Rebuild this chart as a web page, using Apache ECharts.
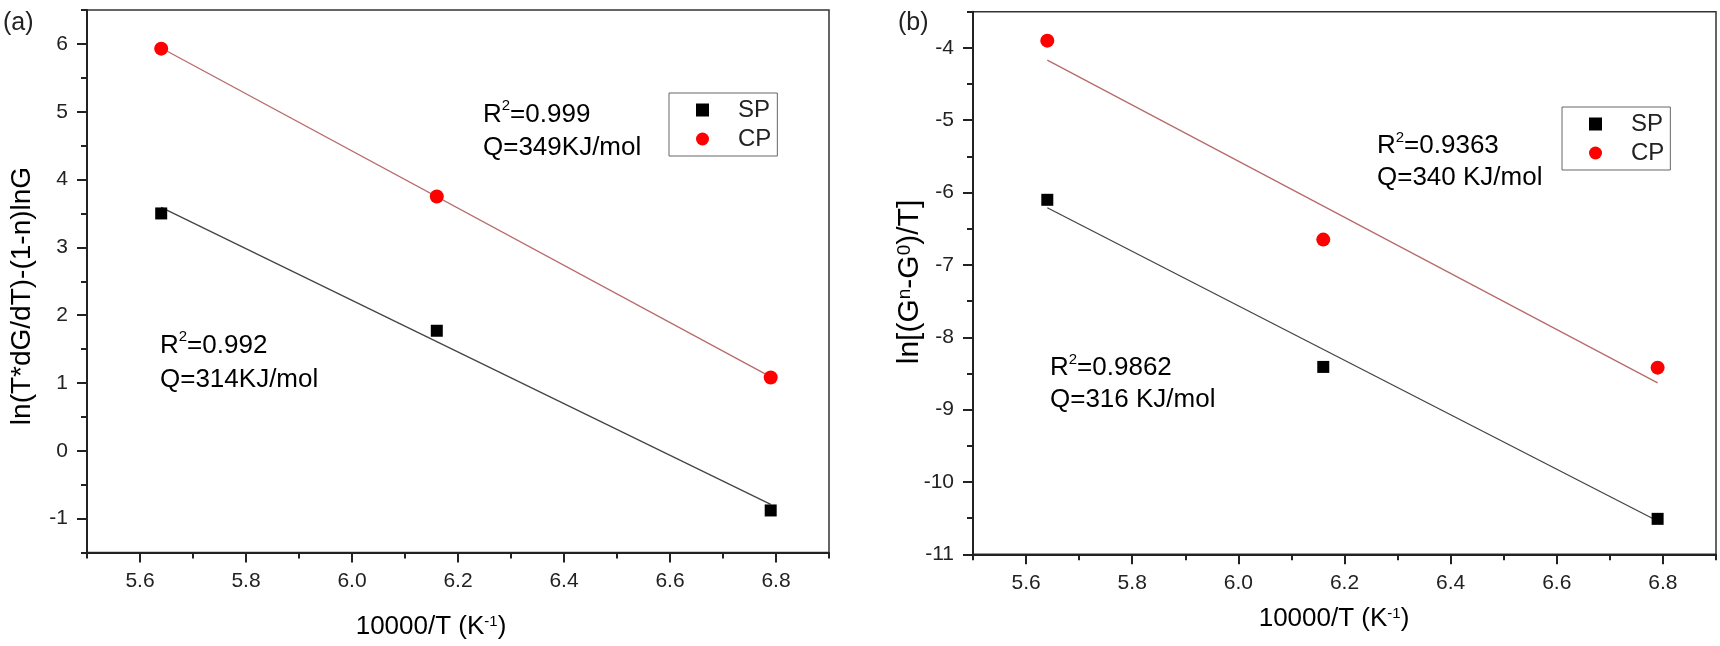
<!DOCTYPE html>
<html>
<head>
<meta charset="utf-8">
<script src="https://cdn.jsdelivr.net/npm/echarts@6/dist/echarts.min.js"></script>
<style>
  html, body { margin: 0; padding: 0; background: #fff; }
  #chart { width: 1720px; height: 646px; }
</style>
</head>
<body>
<div id="chart"></div>
<script>
// values
const xT = [5.64, 6.16, 6.79];
const spA = [3.50, 1.77, -0.88];
const cpA = [5.93, 3.75, 1.08];
const spB = [-6.10, -8.41, -10.51];
const cpB = [-3.90, -6.65, -8.42];

// fitted straight lines, end points as drawn
const fitX = [5.64, 6.79];
const spFitA = [3.59, -0.79];
const cpFitA = [5.94, 1.09];
const spFitB = [-6.21, -10.54];
const cpFitB = [-4.17, -8.63];

// ticks
const xMajor = [5.6, 5.8, 6.0, 6.2, 6.4, 6.6, 6.8];
const xMinor = [5.5, 5.7, 5.9, 6.1, 6.3, 6.5, 6.7, 6.9];
const yMajorA = [-1, 0, 1, 2, 3, 4, 5, 6];
const yMinorA = [-1.5, -0.5, 0.5, 1.5, 2.5, 3.5, 4.5, 5.5, 6.5];
const yMajorB = [-11, -10, -9, -8, -7, -6, -5, -4];
const yMinorB = [-10.5, -9.5, -8.5, -7.5, -6.5, -5.5, -4.5, -3.5];

const FONT = "'Liberation Sans', Arial, sans-serif";
const INK = '#222';

const pairs = (xs, ys) => xs.map((x, i) => [x, ys[i]]);

function xAxes(grid) {
  return [
    {
      gridIndex: grid, type: 'value', position: 'bottom', min: 5.5, max: 6.9,
      axisLine: { show: true, onZero: false, lineStyle: { color: INK, width: 2 } },
      axisTick: { show: true, length: 10, customValues: xMajor, lineStyle: { color: INK, width: 2 } },
      axisLabel: { customValues: xMajor, margin: 18, color: INK, fontSize: 21, fontFamily: FONT,
        formatter: v => v.toFixed(1) },
      splitLine: { show: false }
    },
    {
      gridIndex: grid, type: 'value', position: 'bottom', min: 5.5, max: 6.9,
      axisLine: { show: false, onZero: false },
      axisTick: { show: true, length: 6, customValues: xMinor, lineStyle: { color: INK, width: 2 } },
      axisLabel: { show: false },
      splitLine: { show: false }
    }
  ];
}

function yAxes(grid, min, max, major, minor) {
  return [
    {
      gridIndex: grid, type: 'value', position: 'left', min: min, max: max,
      axisLine: { show: true, onZero: false, lineStyle: { color: INK, width: 2 } },
      axisTick: { show: true, length: 10, customValues: major, lineStyle: { color: INK, width: 2 } },
      axisLabel: { customValues: major, margin: 19, color: INK, fontSize: 21, fontFamily: FONT,
        formatter: v => String(v) },
      splitLine: { show: false }
    },
    {
      gridIndex: grid, type: 'value', position: 'left', min: min, max: max,
      axisLine: { show: false, onZero: false },
      axisTick: { show: true, length: 6, customValues: minor, lineStyle: { color: INK, width: 2 } },
      axisLabel: { show: false },
      splitLine: { show: false }
    }
  ];
}

function panelSeries(grid, sp, cp, spFit, cpFit) {
  const xi = grid * 2, yi = grid * 2;
  return [
    { name: 'SP fit', type: 'line', xAxisIndex: xi, yAxisIndex: yi, data: pairs(fitX, spFit),
      showSymbol: false, silent: true, z: 2, lineStyle: { color: '#444', width: 1.3 } },
    { name: 'CP fit', type: 'line', xAxisIndex: xi, yAxisIndex: yi, data: pairs(fitX, cpFit),
      showSymbol: false, silent: true, z: 2, lineStyle: { color: '#b86a6a', width: 1.3 } },
    { name: 'SP', type: 'scatter', xAxisIndex: xi, yAxisIndex: yi, data: pairs(xT, sp),
      symbol: 'rect', symbolSize: 12, z: 3, itemStyle: { color: '#000', opacity: 1 } },
    { name: 'CP', type: 'scatter', xAxisIndex: xi, yAxisIndex: yi, data: pairs(xT, cp),
      symbol: 'circle', symbolSize: 14, z: 3, itemStyle: { color: '#ff0000', opacity: 1 } }
  ];
}

function legendAt(left, top) {
  return {
    data: ['SP', 'CP'], orient: 'vertical', left: left, top: top,
    padding: [5, 6, 5, 27], itemGap: 5, itemWidth: 13, itemHeight: 13,
    borderColor: '#666', borderWidth: 1, backgroundColor: '#fff',
    selectedMode: false,
    itemStyle: { opacity: 1 },
    formatter: name => '{g|}' + name,
    textStyle: { color: INK, fontSize: 24, lineHeight: 24, fontFamily: FONT,
      rich: { g: { width: 24 } } }
  };
}

const rich = {
  a: { fontSize: 26, fontFamily: FONT, color: INK },
  s: { fontSize: 15, fontFamily: FONT, color: INK, verticalAlign: 'top', lineHeight: 10 }
};

function note(x, y, lh, text) {
  const r = {
    a: Object.assign({}, rich.a, { lineHeight: lh }),
    s: rich.s
  };
  return { type: 'text', x: x, y: y, style: { text: text, rich: r, align: 'left', verticalAlign: 'top' } };
}

function plain(x, y, size, text, rot, supScale) {
  return {
    type: 'text', x: x, y: y, rotation: rot || 0,
    style: {
      text: text, align: 'center', verticalAlign: 'middle',
      rich: {
        a: { fontSize: size, lineHeight: size, fontFamily: FONT, color: INK },
        s: { fontSize: Math.round(size * (supScale || 0.58)), fontFamily: FONT, color: INK, verticalAlign: 'top', lineHeight: 8 }
      }
    }
  };
}

const chart = echarts.init(document.getElementById('chart'), null, { renderer: 'canvas' });

chart.setOption({
  backgroundColor: '#fff',
  animation: false,
  grid: [
    { left: 87, top: 10, right: 891, bottom: 93.5, show: true, borderColor: '#333', borderWidth: 1.5,
      backgroundColor: 'transparent', outerBoundsMode: 'none' },
    { left: 973, top: 11.7, right: 4, bottom: 91.7, show: true, borderColor: '#333', borderWidth: 1.5,
      backgroundColor: 'transparent', outerBoundsMode: 'none' }
  ],
  xAxis: xAxes(0).concat(xAxes(1)),
  yAxis: yAxes(0, -1.5, 6.5, yMajorA, yMinorA).concat(yAxes(1, -11, -3.5, yMajorB, yMinorB)),
  legend: [legendAt(669, 93), legendAt(1562, 107)],
  series: panelSeries(0, spA, cpA, spFitA, cpFitA).concat(panelSeries(1, spB, cpB, spFitB, cpFitB)),
  graphic: [
    { type: 'text', x: 3, y: 11, style: { text: '(a)', fontSize: 25, lineHeight: 25, fontFamily: FONT, fill: INK } },
    { type: 'text', x: 898, y: 11, style: { text: '(b)', fontSize: 25, lineHeight: 25, fontFamily: FONT, fill: INK } },
    note(483, 98, 33, '{a|R}{s|2}{a|=0.999}\n{a|Q=349KJ/mol}'),
    note(160, 329, 34, '{a|R}{s|2}{a|=0.992}\n{a|Q=314KJ/mol}'),
    note(1377, 130, 32, '{a|R}{s|2}{a|=0.9363}\n{a|Q=340 KJ/mol}'),
    note(1050, 352, 32, '{a|R}{s|2}{a|=0.9862}\n{a|Q=316 KJ/mol}'),
    plain(431, 627, 26, '{a|10000/T (K}{s|-1}{a|)}'),
    plain(1334, 619, 26, '{a|10000/T (K}{s|-1}{a|)}'),
    plain(22, 296, 28, '{a|ln(T*dG/dT)-(1-n)lnG}', Math.PI / 2),
    plain(910, 282, 30, '{a|ln[(G}{s|n}{a|-G}{s|0}{a|)/T]}', Math.PI / 2, 0.62)
  ]
});
</script>
</body>
</html>
